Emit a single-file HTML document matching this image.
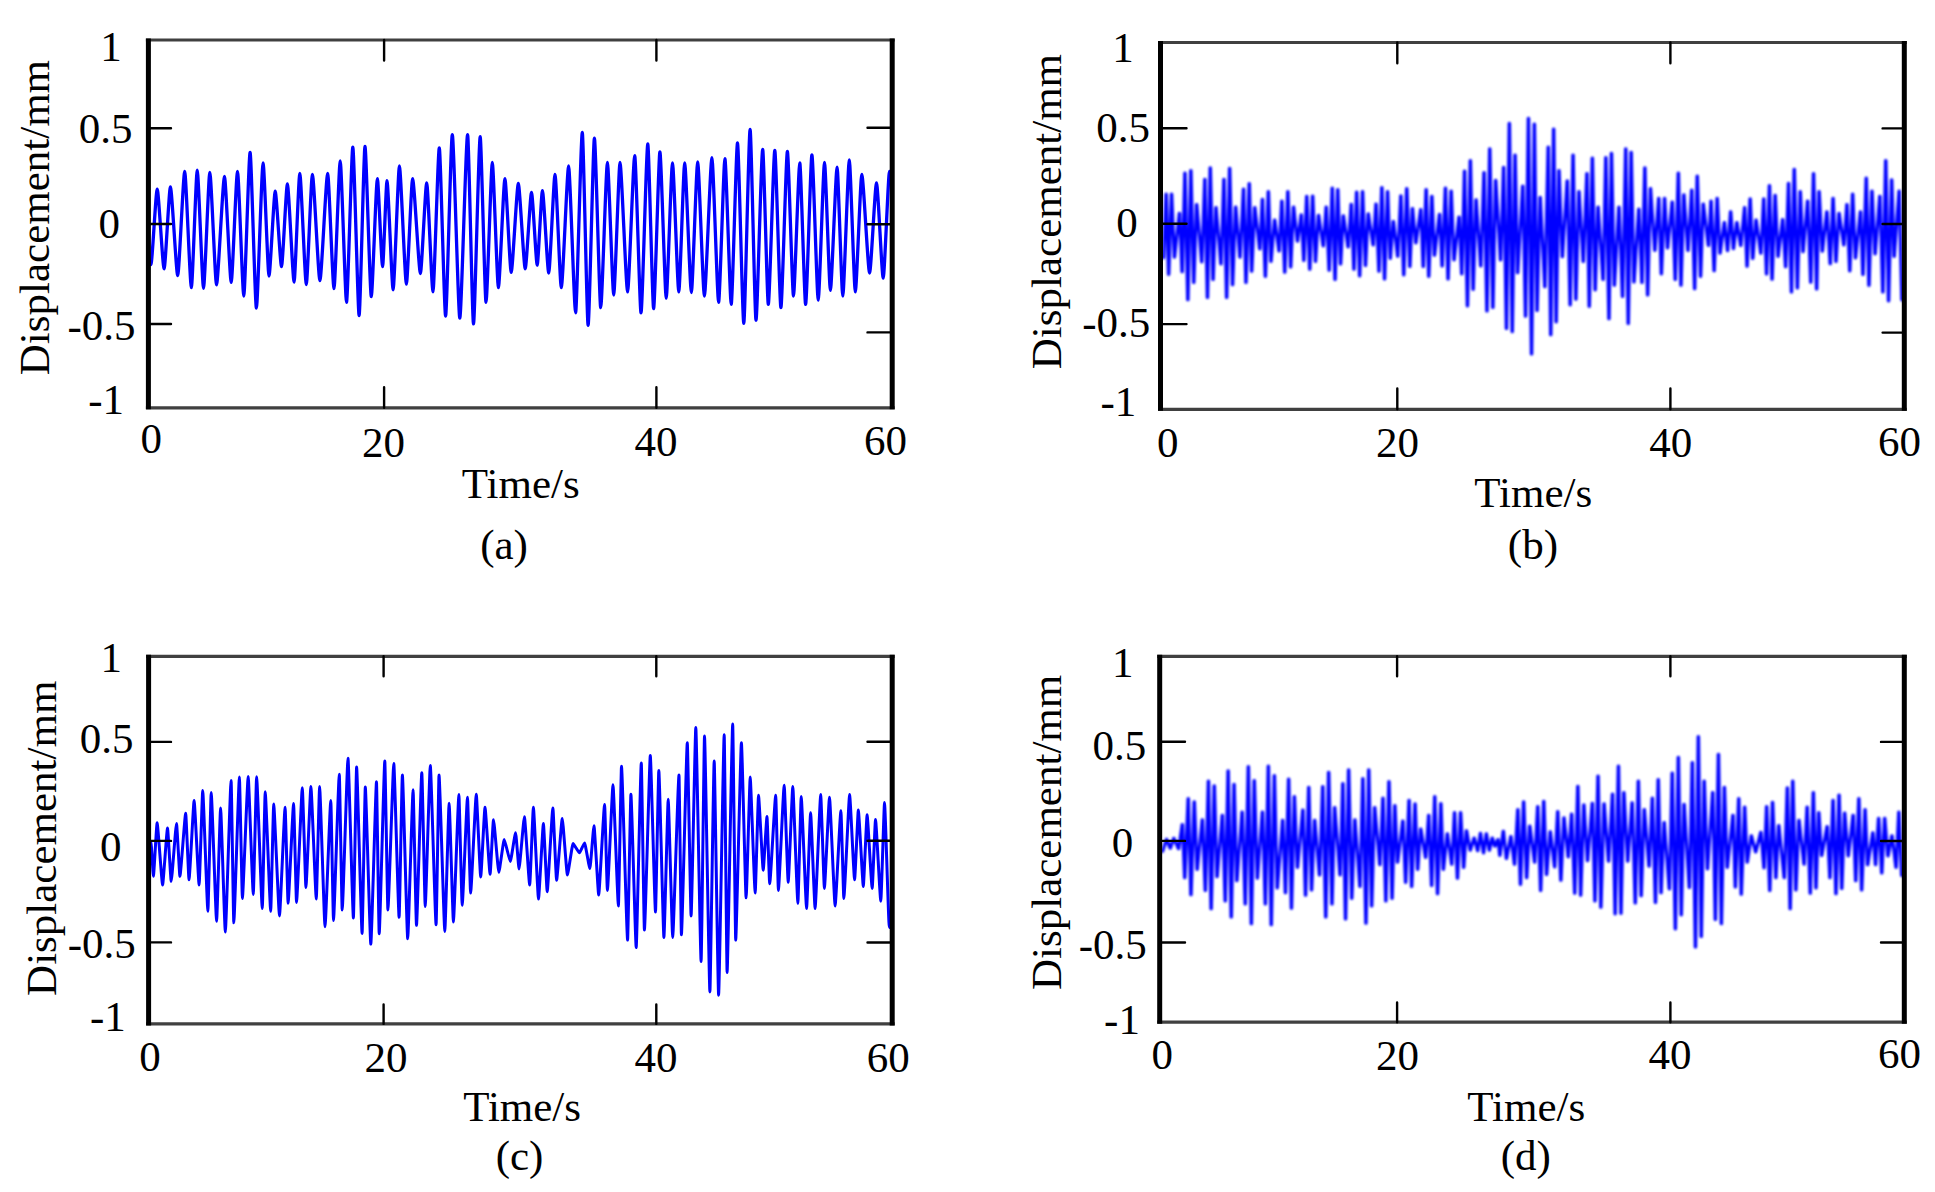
<!DOCTYPE html>
<html lang="en"><head><meta charset="utf-8"><title>Displacement time histories</title>
<style>html,body{margin:0;padding:0;background:#fff}svg{display:block}text{font-family:"Liberation Serif",serif;fill:#000}</style></head>
<body>
<svg width="1935" height="1192" viewBox="0 0 1935 1192">
<rect width="1935" height="1192" fill="#fff"/>
<defs><filter id="soft" x="-2%" y="-5%" width="104%" height="110%"><feGaussianBlur stdDeviation="0.5"/></filter><filter id="softer" x="-2%" y="-5%" width="104%" height="110%"><feGaussianBlur stdDeviation="0.9"/></filter></defs>
<g id="panel-a">
<path d="M150.9,264.6C152.2,264.6 155.9,189.1 157.2,189.1C158.6,189.1 162.7,268.8 164.1,268.8C165.4,268.8 169.1,187.0 170.4,187.0C171.9,187.0 176.3,275.7 177.7,275.7C179.1,275.7 183.3,171.3 184.7,171.3C186.0,171.3 190.0,287.7 191.4,287.7C192.5,287.7 196.1,170.2 197.2,170.2C198.5,170.2 202.3,288.3 203.5,288.3C204.8,288.3 208.6,172.3 209.8,172.3C211.2,172.3 215.2,284.9 216.5,284.9C218.1,284.9 222.9,176.5 224.5,176.5C225.8,176.5 229.9,282.4 231.2,282.4C232.5,282.4 236.2,171.3 237.5,171.3C238.8,171.3 242.5,296.0 243.8,296.0C245.0,296.0 248.8,152.4 250.1,152.4C251.3,152.4 255.1,308.2 256.4,308.2C257.7,308.2 261.7,162.9 263.1,162.9C264.3,162.9 267.8,276.1 269.0,276.1C270.2,276.1 274.0,191.2 275.2,191.2C276.5,191.2 280.3,266.7 281.5,266.7C282.7,266.7 286.2,183.9 287.4,183.9C288.7,183.9 292.8,282.0 294.1,282.0C295.2,282.0 298.6,173.4 299.8,173.4C301.1,173.4 305.0,284.5 306.3,284.5C307.5,284.5 311.1,174.4 312.4,174.4C313.9,174.4 318.4,280.7 319.9,280.7C321.5,280.7 326.1,173.4 327.7,173.4C328.9,173.4 332.7,288.7 334.0,288.7C335.2,288.7 339.0,160.8 340.2,160.8C341.5,160.8 345.3,302.3 346.5,302.3C347.8,302.3 351.6,147.2 352.8,147.2C354.1,147.2 357.9,315.5 359.1,315.5C360.3,315.5 363.8,146.5 365.0,146.5C366.2,146.5 370.0,296.7 371.3,296.7C372.5,296.7 376.1,178.6 377.4,178.6C378.4,178.6 381.5,266.7 382.6,266.7C383.5,266.7 386.1,180.7 387.0,180.7C388.2,180.7 391.9,289.8 393.1,289.8C394.4,289.8 398.2,166.0 399.4,166.0C400.8,166.0 405.0,284.1 406.4,284.1C407.6,284.1 411.4,178.6 412.6,178.6C414.2,178.6 418.9,273.6 420.4,273.6C421.7,273.6 425.4,182.8 426.7,182.8C428.0,182.8 431.7,291.9 433.0,291.9C434.2,291.9 438.0,147.8 439.3,147.8C440.5,147.8 444.3,316.0 445.6,316.0C446.9,316.0 450.9,134.6 452.3,134.6C453.8,134.6 458.3,318.1 459.8,318.1C461.4,318.1 466.0,134.6 467.6,134.6C468.8,134.6 472.3,323.9 473.5,323.9C474.8,323.9 478.8,136.7 480.2,136.7C481.3,136.7 484.9,302.3 486.0,302.3C487.3,302.3 491.1,162.5 492.3,162.5C493.5,162.5 497.2,287.7 498.4,287.7C499.7,287.7 503.6,178.6 504.9,178.6C506.2,178.6 509.9,272.4 511.2,272.4C512.6,272.4 516.9,183.5 518.3,183.5C519.7,183.5 523.9,268.8 525.2,268.8C526.5,268.8 530.3,192.3 531.5,192.3C532.7,192.3 536.1,265.2 537.2,265.2C538.2,265.2 541.4,190.6 542.4,190.6C543.7,190.6 547.5,273.0 548.7,273.0C550.0,273.0 553.8,174.4 555.0,174.4C556.3,174.4 560.0,287.7 561.3,287.7C562.8,287.7 567.2,166.0 568.6,166.0C570.0,166.0 574.2,312.8 575.6,312.8C576.9,312.8 580.9,132.5 582.3,132.5C583.4,132.5 587.0,325.4 588.1,325.4C589.4,325.4 593.2,138.2 594.4,138.2C595.7,138.2 599.5,307.6 600.7,307.6C602.1,307.6 606.1,162.5 607.4,162.5C608.7,162.5 612.5,295.0 613.7,295.0C615.0,295.0 618.8,162.5 620.0,162.5C621.5,162.5 626.1,291.9 627.6,291.9C629.0,291.9 633.3,155.6 634.7,155.6C636.0,155.6 639.8,312.8 641.0,312.8C642.4,312.8 646.4,144.0 647.8,144.0C648.9,144.0 652.5,308.6 653.6,308.6C654.9,308.6 658.7,152.0 659.9,152.0C661.2,152.0 665.0,298.1 666.2,298.1C667.5,298.1 671.2,162.9 672.5,162.9C673.8,162.9 677.5,291.9 678.8,291.9C680.0,291.9 683.5,162.9 684.7,162.9C686.0,162.9 690.0,292.5 691.4,292.5C692.6,292.5 696.4,161.9 697.7,161.9C699.0,161.9 703.0,296.0 704.4,296.0C705.9,296.0 710.4,157.7 711.9,157.7C713.3,157.7 717.3,302.3 718.6,302.3C719.9,302.3 723.7,158.7 724.9,158.7C726.2,158.7 730.0,304.4 731.2,304.4C732.5,304.4 736.2,143.0 737.5,143.0C738.8,143.0 742.5,323.3 743.8,323.3C745.0,323.3 748.8,129.4 750.1,129.4C751.3,129.4 754.8,320.2 756.0,320.2C757.3,320.2 761.3,149.3 762.7,149.3C763.8,149.3 767.2,304.4 768.3,304.4C769.6,304.4 773.5,150.3 774.8,150.3C776.0,150.3 779.7,307.6 780.9,307.6C782.2,307.6 786.1,151.4 787.4,151.4C788.6,151.4 792.3,296.0 793.5,296.0C794.7,296.0 798.5,162.9 799.8,162.9C800.9,162.9 804.5,304.4 805.6,304.4C806.9,304.4 810.7,154.9 811.9,154.9C813.2,154.9 817.0,300.2 818.2,300.2C819.5,300.2 823.3,162.3 824.5,162.3C825.7,162.3 829.2,290.4 830.4,290.4C831.7,290.4 835.8,167.1 837.1,167.1C838.2,167.1 841.6,296.0 842.8,296.0C844.1,296.0 848.0,159.8 849.3,159.8C850.5,159.8 854.1,291.9 855.3,291.9C856.6,291.9 860.5,174.4 861.8,174.4C863.4,174.4 868.0,273.0 869.6,273.0C871.0,273.0 875.1,182.8 876.5,182.8C877.9,182.8 881.9,278.2 883.2,278.2C884.5,278.2 888.3,171.3 889.5,171.3" fill="none" stroke="#0000ff" stroke-width="3.3" stroke-linejoin="round" stroke-linecap="round" filter="url(#soft)"/>
<g stroke="#404040" stroke-width="3.2" fill="none"><path d="M145.9,40.0H894.7M145.9,407.8H894.7"/></g>
<path d="M148.4,128.2H171.0M148.4,224.0H171.0M148.4,324.0H171.0M892.2,127.7H867.5M892.2,224.2H867.5M892.2,332.4H867.5M384.1,40.0V60.5M384.1,407.8V387.3M656.4,40.0V60.5M656.4,407.8V387.3" stroke="#000" stroke-width="2.4" stroke-linecap="round" fill="none"/>
<path d="M148.4,38.5V409.3M892.2,38.5V409.3" stroke="#000" stroke-width="5" fill="none"/>
<text x="111.1" y="60.5" font-size="43" text-anchor="middle" >1</text>
<text x="105.5" y="143.2" font-size="43" text-anchor="middle" >0.5</text>
<text x="109.2" y="237.6" font-size="43" text-anchor="middle" >0</text>
<text x="101.5" y="340.0" font-size="43" text-anchor="middle" >-0.5</text>
<text x="106.2" y="413.5" font-size="43" text-anchor="middle" >-1</text>
<text x="151.3" y="452.9" font-size="43" text-anchor="middle" >0</text>
<text x="383.6" y="457.0" font-size="43" text-anchor="middle" >20</text>
<text x="655.9" y="455.8" font-size="43" text-anchor="middle" >40</text>
<text x="885.5" y="454.6" font-size="43" text-anchor="middle" >60</text>
<text x="520.7" y="498.4" font-size="43" text-anchor="middle" >Time/s</text>
<text x="504.1" y="559.2" font-size="43" text-anchor="middle" >(a)</text>
<text font-size="43" text-anchor="middle" transform="translate(49.2,217.6) rotate(-90)">Displacement/mm</text>
</g>
<g id="panel-b">
<path d="M1163.3,257.7L1163.6,257.7L1166.0,194.2L1166.3,194.2L1168.5,274.3L1168.8,274.3L1171.4,194.2L1171.7,194.2L1174.3,257.2L1174.6,257.2L1179.3,213.4L1179.6,213.4L1182.0,271.7L1182.3,271.7L1184.8,173.0L1185.1,173.0L1187.7,299.6L1188.0,299.6L1190.7,170.5L1191.0,170.5L1193.6,282.5L1193.9,282.5L1196.5,204.6L1196.8,204.6L1201.6,261.8L1201.9,261.8L1204.7,179.3L1205.0,179.3L1207.3,297.5L1207.6,297.5L1210.1,167.9L1210.4,167.9L1212.9,279.4L1213.2,279.4L1215.8,207.7L1216.1,207.7L1220.8,263.9L1221.1,263.9L1223.8,179.3L1224.1,179.3L1226.5,297.5L1226.8,297.5L1229.5,168.4L1229.8,168.4L1232.4,284.6L1232.7,284.6L1235.5,207.2L1235.8,207.2L1239.8,257.2L1240.1,257.2L1243.4,189.1L1243.7,189.1L1245.8,282.5L1246.1,282.5L1249.1,183.6L1249.4,183.6L1251.5,271.1L1251.8,271.1L1254.6,207.7L1254.9,207.7L1259.6,248.9L1259.9,248.9L1262.3,199.4L1262.6,199.4L1265.2,276.3L1265.5,276.3L1268.2,191.7L1268.5,191.7L1270.8,261.3L1271.1,261.3L1274.5,220.1L1274.8,220.1L1278.9,251.0L1279.2,251.0L1281.7,201.0L1282.0,201.0L1284.6,272.2L1284.9,272.2L1287.7,191.7L1288.0,191.7L1290.5,267.0L1290.8,267.0L1293.4,207.2L1293.7,207.2L1297.3,241.2L1297.6,241.2L1301.1,214.9L1301.4,214.9L1303.7,260.3L1304.0,260.3L1306.6,196.3L1306.9,196.3L1309.6,269.1L1309.9,269.1L1312.5,196.0L1312.8,196.0L1315.3,261.3L1315.6,261.3L1318.4,215.4L1318.7,215.4L1323.1,245.8L1323.4,245.8L1326.1,207.2L1326.4,207.2L1329.0,270.1L1329.3,270.1L1332.1,188.0L1332.4,188.0L1334.9,279.4L1335.2,279.4L1337.6,189.6L1337.9,189.6L1340.4,263.9L1340.7,263.9L1343.2,215.9L1343.5,215.9L1348.0,246.9L1348.3,246.9L1351.1,204.3L1351.4,204.3L1353.8,269.1L1354.1,269.1L1356.5,192.2L1356.8,192.2L1359.5,275.8L1359.8,275.8L1362.4,191.7L1362.7,191.7L1365.3,265.5L1365.6,265.5L1368.1,213.9L1368.4,213.9L1373.0,244.8L1373.3,244.8L1375.9,204.1L1376.2,204.1L1378.8,271.2L1379.1,271.2L1381.7,187.5L1382.0,187.5L1384.4,278.9L1384.7,278.9L1387.4,191.7L1387.7,191.7L1390.1,258.3L1390.4,258.3L1393.2,221.6L1393.5,221.6L1397.6,256.2L1397.9,256.2L1400.7,195.8L1401.0,195.8L1403.6,274.8L1403.9,274.8L1406.6,188.6L1406.9,188.6L1409.7,266.5L1410.0,266.5L1412.3,208.7L1412.6,208.7L1415.7,242.8L1416.0,242.8L1420.6,209.7L1420.9,209.7L1423.1,266.5L1423.4,266.5L1426.0,189.6L1426.3,189.6L1428.6,276.3L1428.9,276.3L1431.7,196.3L1432.0,196.3L1434.3,255.2L1434.6,255.2L1439.4,214.4L1439.7,214.4L1442.0,266.0L1442.3,266.0L1445.3,188.0L1445.6,188.0L1447.9,278.9L1448.2,278.9L1451.0,191.1L1451.3,191.1L1453.9,259.8L1454.2,259.8L1458.9,217.0L1459.2,217.0L1461.6,273.8L1461.9,273.8L1464.4,171.0L1464.7,171.0L1467.3,305.8L1467.6,305.8L1470.2,160.6L1470.5,160.6L1473.0,289.3L1473.3,289.3L1475.9,199.9L1476.2,199.9L1480.6,266.0L1480.9,266.0L1483.9,172.5L1484.2,172.5L1486.8,311.0L1487.1,311.0L1489.6,148.8L1489.9,148.8L1492.7,307.4L1493.0,307.4L1495.5,180.3L1495.8,180.3L1500.4,259.8L1500.7,259.8L1503.5,167.4L1503.8,167.4L1506.3,328.5L1506.6,328.5L1509.2,123.4L1509.5,123.4L1512.1,331.6L1512.4,331.6L1514.9,155.0L1515.2,155.0L1517.5,272.7L1517.8,272.7L1522.6,186.0L1522.9,186.0L1525.4,316.1L1525.7,316.1L1528.3,118.3L1528.6,118.3L1531.4,353.9L1531.7,353.9L1534.2,124.0L1534.5,124.0L1536.9,310.5L1537.2,310.5L1540.0,197.3L1540.3,197.3L1544.7,286.7L1545.0,286.7L1548.1,147.2L1548.4,147.2L1550.6,334.7L1550.9,334.7L1553.5,129.1L1553.8,129.1L1556.0,321.8L1556.3,321.8L1558.8,170.5L1559.1,170.5L1562.2,256.7L1562.5,256.7L1567.1,180.8L1567.4,180.8L1570.0,304.8L1570.3,304.8L1572.9,155.0L1573.2,155.0L1575.7,299.1L1576.0,299.1L1578.8,191.7L1579.1,191.7L1583.1,261.4L1583.4,261.4L1586.8,173.6L1587.1,173.6L1589.1,306.3L1589.4,306.3L1592.2,158.1L1592.5,158.1L1595.0,289.8L1595.3,289.8L1597.9,207.2L1598.2,207.2L1602.9,279.4L1603.2,279.4L1605.7,157.5L1606.0,157.5L1608.8,318.7L1609.1,318.7L1611.3,153.4L1611.6,153.4L1614.2,285.1L1614.5,285.1L1618.8,207.2L1619.1,207.2L1622.4,296.5L1622.7,296.5L1625.6,148.8L1625.9,148.8L1628.1,323.4L1628.4,323.4L1631.0,152.4L1631.3,152.4L1633.8,282.0L1634.1,282.0L1638.7,209.2L1639.0,209.2L1641.8,282.5L1642.1,282.5L1644.7,167.9L1645.0,167.9L1647.5,294.9L1647.8,294.9L1650.3,188.6L1650.6,188.6L1654.7,250.5L1655.0,250.5L1658.6,198.4L1658.9,198.4L1661.2,273.8L1661.5,273.8L1664.4,198.4L1664.7,198.4L1667.4,247.9L1667.7,247.9L1672.1,202.0L1672.4,202.0L1675.1,279.4L1675.4,279.4L1678.2,173.0L1678.5,173.0L1680.8,285.1L1681.1,285.1L1683.7,194.8L1684.0,194.8L1687.8,250.5L1688.1,250.5L1691.6,190.1L1691.9,190.1L1694.5,288.7L1694.8,288.7L1697.1,176.1L1697.4,176.1L1700.4,276.3L1700.7,276.3L1703.1,204.1L1703.4,204.1L1708.3,245.3L1708.6,245.3L1710.9,201.0L1711.2,201.0L1714.0,270.7L1714.3,270.7L1717.0,198.4L1717.3,198.4L1719.9,253.1L1720.2,253.1L1724.2,222.7L1724.5,222.7L1727.4,250.7L1727.7,250.7L1730.5,211.8L1730.8,211.8L1733.3,248.6L1733.6,248.6L1736.7,222.7L1737.0,222.7L1740.6,245.5L1740.9,245.5L1744.5,207.7L1744.8,207.7L1746.9,266.2L1747.2,266.2L1750.0,198.9L1750.3,198.9L1752.6,258.4L1752.9,258.4L1755.9,220.1L1756.2,220.1L1760.7,253.2L1761.0,253.2L1763.6,198.9L1763.9,198.9L1766.4,273.9L1766.7,273.9L1769.3,185.5L1769.6,185.5L1771.9,279.1L1772.2,279.1L1775.0,195.3L1775.3,195.3L1777.9,256.3L1778.2,256.3L1782.5,219.6L1782.8,219.6L1785.5,266.7L1785.8,266.7L1788.4,183.4L1788.7,183.4L1791.3,292.0L1791.6,292.0L1794.1,169.4L1794.4,169.4L1797.2,287.9L1797.5,287.9L1800.1,191.7L1800.4,191.7L1802.9,251.7L1803.2,251.7L1807.5,201.0L1807.8,201.0L1810.6,282.2L1810.9,282.2L1813.4,173.6L1813.7,173.6L1816.5,288.9L1816.8,288.9L1818.9,191.7L1819.2,191.7L1822.2,251.2L1822.5,251.2L1826.7,211.8L1827.0,211.8L1830.1,263.6L1830.4,263.6L1832.9,198.4L1833.2,198.4L1835.8,261.5L1836.1,261.5L1838.9,213.4L1839.2,213.4L1843.7,245.0L1844.0,245.0L1846.8,204.6L1847.1,204.6L1849.6,270.8L1849.9,270.8L1852.5,194.2L1852.8,194.2L1855.3,257.9L1855.6,257.9L1860.3,211.8L1860.6,211.8L1862.8,274.4L1863.1,274.4L1866.1,178.2L1866.4,178.2L1868.8,285.3L1869.1,285.3L1871.8,191.1L1872.1,191.1L1874.9,253.8L1875.2,253.8L1879.7,196.3L1880.0,196.3L1882.7,292.0L1883.0,292.0L1885.6,160.6L1885.9,160.6L1888.4,300.8L1888.7,300.8L1891.5,179.8L1891.8,179.8L1894.0,256.3L1894.3,256.3L1899.0,191.1L1899.3,191.1L1901.8,299.8L1902.1,299.8" fill="none" stroke="#0000ff" stroke-width="3.2" stroke-linejoin="round" stroke-linecap="round" filter="url(#softer)"/>
<g stroke="#404040" stroke-width="3.2" fill="none"><path d="M1158.0,42.5H1906.8M1158.0,409.3H1906.8"/></g>
<path d="M1160.5,128.2H1186.5M1160.5,223.8H1186.5M1160.5,324.1H1186.5M1904.3,128.4H1882.6M1904.3,224.0H1882.6M1904.3,332.6H1882.6M1397.3,42.5V63.2M1397.3,409.3V388.5M1670.4,42.5V63.2M1670.4,409.3V388.5" stroke="#000" stroke-width="2.4" stroke-linecap="round" fill="none"/>
<path d="M1160.5,41.0V410.8M1904.3,41.0V410.8" stroke="#000" stroke-width="5" fill="none"/>
<text x="1123.0" y="62.0" font-size="43" text-anchor="middle" >1</text>
<text x="1123.1" y="142.2" font-size="43" text-anchor="middle" >0.5</text>
<text x="1127.0" y="236.9" font-size="43" text-anchor="middle" >0</text>
<text x="1116.3" y="337.4" font-size="43" text-anchor="middle" >-0.5</text>
<text x="1118.4" y="415.9" font-size="43" text-anchor="middle" >-1</text>
<text x="1167.7" y="456.6" font-size="43" text-anchor="middle" >0</text>
<text x="1397.5" y="456.6" font-size="43" text-anchor="middle" >20</text>
<text x="1670.8" y="456.6" font-size="43" text-anchor="middle" >40</text>
<text x="1899.5" y="455.8" font-size="43" text-anchor="middle" >60</text>
<text x="1533.3" y="506.7" font-size="43" text-anchor="middle" >Time/s</text>
<text x="1532.9" y="559.2" font-size="43" text-anchor="middle" >(b)</text>
<text font-size="43" text-anchor="middle" transform="translate(1060.6,211.6) rotate(-90)">Displacement/mm</text>
</g>
<g id="panel-c">
<path d="M151.0,842.0C151.3,842.0 153.1,876.3 153.4,876.3C153.9,876.3 156.6,822.7 157.1,822.7C157.8,822.7 161.9,885.0 162.6,885.0C163.2,885.0 166.9,828.1 167.5,828.1C168.0,828.1 170.7,881.3 171.2,881.3C171.9,881.3 175.8,823.4 176.5,823.4C177.0,823.4 179.5,876.3 179.9,876.3C180.7,876.3 184.9,813.3 185.7,813.3C186.1,813.3 188.6,879.7 189.0,879.7C189.7,879.7 193.5,800.5 194.1,800.5C194.8,800.5 198.5,885.0 199.1,885.0C199.6,885.0 202.3,790.5 202.7,790.5C203.4,790.5 207.2,911.2 207.9,911.2C208.3,911.2 210.8,792.5 211.2,792.5C211.9,792.5 215.9,921.3 216.6,921.3C217.1,921.3 220.1,807.9 220.6,807.9C221.2,807.9 224.7,932.1 225.3,932.1C226.1,932.1 230.3,780.4 231.1,780.4C231.5,780.4 233.4,922.7 233.8,922.7C234.5,922.7 238.7,777.0 239.4,777.0C239.8,777.0 242.0,898.5 242.4,898.5C243.1,898.5 247.4,776.4 248.2,776.4C248.8,776.4 252.6,894.4 253.3,894.4C253.7,894.4 256.2,776.8 256.6,776.8C257.4,776.8 261.5,908.5 262.3,908.5C262.7,908.5 264.8,791.8 265.2,791.8C265.9,791.8 270.0,911.2 270.7,911.2C271.1,911.2 273.3,803.9 273.7,803.9C274.4,803.9 278.7,915.9 279.5,915.9C280.2,915.9 284.4,807.3 285.1,807.3C285.5,807.3 287.7,903.2 288.1,903.2C288.8,903.2 292.9,803.6 293.6,803.6C294.0,803.6 296.2,902.5 296.5,902.5C297.3,902.5 301.6,787.8 302.3,787.8C302.8,787.8 305.5,887.4 305.9,887.4C306.6,887.4 310.3,786.4 310.9,786.4C311.6,786.4 315.6,899.1 316.3,899.1C316.7,899.1 319.2,786.4 319.6,786.4C320.3,786.4 324.3,926.7 325.0,926.7C325.8,926.7 330.0,800.5 330.8,800.5C331.2,800.5 333.1,920.6 333.5,920.6C334.2,920.6 338.5,774.3 339.3,774.3C339.7,774.3 341.8,909.9 342.2,909.9C343.0,909.9 347.2,758.2 348.0,758.2C348.7,758.2 352.7,917.9 353.4,917.9C353.8,917.9 356.2,767.0 356.6,767.0C357.3,767.0 361.4,933.4 362.1,933.4C362.5,933.4 364.9,787.1 365.3,787.1C366.0,787.1 370.1,944.1 370.8,944.1C371.6,944.1 375.8,781.7 376.5,781.7C376.8,781.7 378.8,933.7 379.2,933.7C379.9,933.7 384.1,760.9 384.8,760.9C385.2,760.9 387.5,909.9 387.9,909.9C388.7,909.9 393.0,763.6 393.8,763.6C394.5,763.6 398.4,917.3 399.1,917.3C399.6,917.3 401.9,775.0 402.4,775.0C403.1,775.0 407.0,938.8 407.7,938.8C408.4,938.8 412.4,789.8 413.1,789.8C413.5,789.8 416.0,925.3 416.5,925.3C417.2,925.3 421.1,772.7 421.8,772.7C422.3,772.7 424.8,906.5 425.2,906.5C425.9,906.5 429.6,765.6 430.3,765.6C431.1,765.6 435.3,924.7 436.1,924.7C436.5,924.7 438.7,775.0 439.0,775.0C439.8,775.0 444.1,931.4 444.8,931.4C445.4,931.4 448.6,803.2 449.1,803.2C449.7,803.2 452.9,922.0 453.4,922.0C454.1,922.0 458.2,794.5 458.9,794.5C459.3,794.5 461.7,905.2 462.2,905.2C462.9,905.2 466.8,797.2 467.5,797.2C467.9,797.2 470.2,893.1 470.6,893.1C471.4,893.1 475.5,794.2 476.3,794.2C476.8,794.2 480.1,877.0 480.7,877.0C481.3,877.0 484.4,807.3 485.0,807.3C485.7,807.3 489.4,874.3 490.1,874.3C490.5,874.3 493.0,819.8 493.5,819.8C494.2,819.8 498.1,872.3 498.8,872.3C499.5,872.3 503.5,839.5 504.2,839.5C505.0,839.5 509.5,861.5 510.3,861.5C511.0,861.5 514.9,832.8 515.6,832.8C516.1,832.8 518.6,868.9 519.0,868.9C519.7,868.9 523.7,816.7 524.4,816.7C525.1,816.7 529.0,885.0 529.7,885.0C530.2,885.0 532.9,807.3 533.4,807.3C534.0,807.3 537.8,899.1 538.5,899.1C539.1,899.1 542.8,823.4 543.4,823.4C543.9,823.4 546.7,891.7 547.2,891.7C547.9,891.7 552.1,807.9 552.9,807.9C553.3,807.9 556.1,880.3 556.6,880.3C557.3,880.3 561.5,818.4 562.3,818.4C562.9,818.4 566.7,875.0 567.4,875.0C568.1,875.0 572.3,843.5 573.0,843.5C573.8,843.5 578.6,852.8 579.5,852.8C580.1,852.8 583.9,842.9 584.6,842.9C585.3,842.9 589.2,868.6 589.9,868.6C590.5,868.6 593.4,825.7 594.0,825.7C594.6,825.7 598.1,895.1 598.7,895.1C599.4,895.1 603.8,804.6 604.6,804.6C605.0,804.6 607.0,890.4 607.4,890.4C608.1,890.4 612.3,784.8 613.0,784.8C613.7,784.8 617.7,905.9 618.4,905.9C618.8,905.9 621.1,766.3 621.5,766.3C622.3,766.3 626.8,940.1 627.6,940.1C628.0,940.1 630.5,794.2 630.9,794.2C631.6,794.2 635.5,947.5 636.2,947.5C636.8,947.5 640.6,762.9 641.3,762.9C641.7,762.9 644.0,930.0 644.4,930.0C645.2,930.0 649.6,755.6 650.3,755.6C651.0,755.6 654.8,911.9 655.5,911.9C655.9,911.9 658.4,770.4 658.8,770.4C659.5,770.4 663.3,937.4 663.9,937.4C664.5,937.4 667.7,799.3 668.2,799.3C668.8,799.3 672.1,937.4 672.7,937.4C673.5,937.4 678.1,775.1 679.0,775.1C679.3,775.1 681.1,934.7 681.4,934.7C682.2,934.7 686.5,742.8 687.3,742.8C687.8,742.8 690.6,915.9 691.1,915.9C691.7,915.9 695.2,727.4 695.8,727.4C696.5,727.4 700.4,961.6 701.1,961.6C701.6,961.6 704.1,735.9 704.5,735.9C705.2,735.9 709.2,991.9 709.9,991.9C710.4,991.9 713.6,761.0 714.2,761.0C714.7,761.0 718.0,995.2 718.6,995.2C719.3,995.2 723.5,734.8 724.2,734.8C724.6,734.8 726.7,972.4 727.1,972.4C727.8,972.4 732.0,724.0 732.7,724.0C733.1,724.0 735.3,940.1 735.7,940.1C736.4,940.1 740.7,742.8 741.4,742.8C742.1,742.8 745.5,897.8 746.1,897.8C746.7,897.8 749.7,777.1 750.2,777.1C750.8,777.1 754.5,893.1 755.2,893.1C755.6,893.1 758.1,795.2 758.5,795.2C759.1,795.2 762.6,870.2 763.2,870.2C763.7,870.2 766.5,816.5 767.0,816.5C767.3,816.5 769.3,883.7 769.7,883.7C770.5,883.7 774.9,795.2 775.7,795.2C776.1,795.2 778.0,890.4 778.4,890.4C779.1,890.4 783.4,785.2 784.2,785.2C784.7,785.2 787.7,882.3 788.2,882.3C788.8,882.3 792.2,786.5 792.8,786.5C793.4,786.5 797.2,903.2 797.9,903.2C798.3,903.2 800.8,796.6 801.2,796.6C801.9,796.6 805.9,908.5 806.6,908.5C807.1,908.5 810.1,812.7 810.6,812.7C811.2,812.7 814.5,908.5 815.1,908.5C815.8,908.5 820.0,794.6 820.7,794.6C821.2,794.6 823.9,888.4 824.4,888.4C825.0,888.4 828.8,797.3 829.5,797.3C830.2,797.3 834.4,905.9 835.1,905.9C835.9,905.9 840.1,810.7 840.9,810.7C841.3,810.7 843.5,898.5 843.8,898.5C844.6,898.5 848.9,794.6 849.6,794.6C850.3,794.6 853.9,879.7 854.6,879.7C855.1,879.7 857.9,810.0 858.3,810.0C859.0,810.0 862.7,886.4 863.3,886.4C863.8,886.4 866.6,814.7 867.1,814.7C867.7,814.7 871.5,888.4 872.2,888.4C872.6,888.4 875.1,819.4 875.5,819.4C876.2,819.4 880.1,901.2 880.8,901.2C881.3,901.2 884.1,802.6 884.5,802.6C885.2,802.6 888.6,927.4 889.3,927.4" fill="none" stroke="#0000ff" stroke-width="3.0" stroke-linejoin="round" stroke-linecap="round" filter="url(#soft)"/>
<g stroke="#404040" stroke-width="3.2" fill="none"><path d="M146.1,656.3H894.7M146.1,1023.9H894.7"/></g>
<path d="M148.6,741.9H171.0M148.6,840.9H171.0M148.6,942.4H171.0M892.2,741.8H867.5M892.2,840.8H867.5M892.2,942.5H867.5M383.6,656.3V676.3M383.6,1023.9V1004.5M656.3,656.3V676.3M656.3,1023.9V1004.5" stroke="#000" stroke-width="2.4" stroke-linecap="round" fill="none"/>
<path d="M148.6,654.8V1025.4M892.2,654.8V1025.4" stroke="#000" stroke-width="5" fill="none"/>
<text x="111.2" y="672.2" font-size="43" text-anchor="middle" >1</text>
<text x="106.7" y="753.0" font-size="43" text-anchor="middle" >0.5</text>
<text x="110.7" y="860.5" font-size="43" text-anchor="middle" >0</text>
<text x="101.8" y="957.9" font-size="43" text-anchor="middle" >-0.5</text>
<text x="107.9" y="1030.9" font-size="43" text-anchor="middle" >-1</text>
<text x="150.0" y="1071.2" font-size="43" text-anchor="middle" >0</text>
<text x="385.9" y="1072.0" font-size="43" text-anchor="middle" >20</text>
<text x="655.9" y="1072.0" font-size="43" text-anchor="middle" >40</text>
<text x="888.2" y="1072.0" font-size="43" text-anchor="middle" >60</text>
<text x="522.1" y="1120.8" font-size="43" text-anchor="middle" >Time/s</text>
<text x="519.6" y="1170.4" font-size="43" text-anchor="middle" >(c)</text>
<text font-size="43" text-anchor="middle" transform="translate(55.8,838.3) rotate(-90)">Displacement/mm</text>
</g>
<g id="panel-d">
<path d="M1162.3,851.3L1162.6,851.3L1166.4,839.4L1166.7,839.4L1170.1,848.2L1170.4,848.2L1173.7,838.3L1174.0,838.3L1178.4,848.7L1178.7,848.7L1182.2,824.6L1182.5,824.6L1184.6,877.6L1184.9,877.6L1188.1,798.7L1188.4,798.7L1190.8,894.7L1191.1,894.7L1194.1,801.8L1194.4,801.8L1197.0,869.3L1197.3,869.3L1202.2,819.9L1202.5,819.9L1205.2,890.5L1205.5,890.5L1208.3,781.2L1208.6,781.2L1211.0,908.6L1211.3,908.6L1214.1,785.8L1214.4,785.8L1216.9,876.6L1217.2,876.6L1222.2,815.3L1222.5,815.3L1225.1,900.9L1225.4,900.9L1228.0,770.8L1228.3,770.8L1231.1,916.9L1231.4,916.9L1233.9,784.3L1234.2,784.3L1236.7,880.7L1237.0,880.7L1242.0,812.2L1242.3,812.2L1245.1,904.0L1245.4,904.0L1248.2,766.7L1248.5,766.7L1251.2,923.6L1251.5,923.6L1254.1,780.6L1254.4,780.6L1257.2,878.1L1257.5,878.1L1262.3,812.2L1262.6,812.2L1265.2,904.0L1265.5,904.0L1268.2,766.2L1268.5,766.2L1271.1,924.6L1271.4,924.6L1274.2,775.5L1274.5,775.5L1277.1,887.9L1277.4,887.9L1282.5,820.4L1282.8,820.4L1285.3,892.6L1285.6,892.6L1288.5,779.1L1288.8,779.1L1291.3,908.1L1291.6,908.1L1294.2,796.7L1294.5,796.7L1297.3,867.3L1297.6,867.3L1302.7,810.1L1303.0,810.1L1305.4,895.2L1305.7,895.2L1308.6,787.4L1308.9,787.4L1311.4,890.0L1311.7,890.0L1314.5,820.4L1314.8,820.4L1319.4,875.0L1319.7,875.0L1322.6,786.6L1322.9,786.6L1325.6,916.9L1325.9,916.9L1328.5,772.4L1328.8,772.4L1331.8,904.0L1332.1,904.0L1334.5,807.5L1334.8,807.5L1339.9,875.0L1340.2,875.0L1342.7,783.7L1343.0,783.7L1345.4,919.0L1345.7,919.0L1348.5,769.8L1348.8,769.8L1351.6,898.3L1351.9,898.3L1354.7,819.9L1355.0,819.9L1359.8,886.4L1360.1,886.4L1362.7,778.6L1363.0,778.6L1365.8,923.1L1366.1,923.1L1368.6,769.8L1368.9,769.8L1371.5,906.0L1371.8,906.0L1374.5,807.5L1374.8,807.5L1379.7,864.7L1380.0,864.7L1382.8,798.2L1383.1,798.2L1385.7,900.9L1386.0,900.9L1388.8,781.7L1389.1,781.7L1391.9,898.3L1392.2,898.3L1394.7,805.5L1395.0,805.5L1397.4,862.1L1397.7,862.1L1402.7,821.0L1403.0,821.0L1405.5,882.3L1405.8,882.3L1408.9,800.3L1409.2,800.3L1411.5,886.4L1411.8,886.4L1414.9,803.9L1415.2,803.9L1417.5,869.3L1417.8,869.3L1420.6,829.2L1420.9,829.2L1425.5,857.5L1425.8,857.5L1428.6,815.3L1428.9,815.3L1431.5,885.4L1431.8,885.4L1434.6,796.7L1434.9,796.7L1437.4,893.6L1437.7,893.6L1440.7,803.6L1441.0,803.6L1443.2,869.3L1443.5,869.3L1447.2,833.9L1447.5,833.9L1451.6,864.2L1451.9,864.2L1454.4,812.7L1454.7,812.7L1457.3,878.1L1457.6,878.1L1460.4,812.7L1460.7,812.7L1463.5,867.3L1463.8,867.3L1466.3,830.8L1466.6,830.8L1470.1,850.2L1470.4,850.2L1474.0,838.0L1474.3,838.0L1477.5,850.7L1477.8,850.7L1480.3,833.4L1480.6,833.4L1483.4,852.8L1483.7,852.8L1486.2,833.9L1486.5,833.9L1489.2,850.2L1489.5,850.2L1492.1,838.0L1492.4,838.0L1494.7,846.1L1495.0,846.1L1497.8,839.6L1498.1,839.6L1499.7,855.4L1500.0,855.4L1503.2,831.3L1503.5,831.3L1506.3,858.5L1506.6,858.5L1510.7,836.5L1511.0,836.5L1514.4,864.2L1514.7,864.2L1517.7,809.6L1518.0,809.6L1520.3,884.3L1520.6,884.3L1523.5,801.8L1523.8,801.8L1526.5,877.6L1526.8,877.6L1529.6,826.1L1529.9,826.1L1534.5,862.1L1534.8,862.1L1537.6,806.5L1537.9,806.5L1540.5,890.5L1540.8,890.5L1543.6,801.3L1543.9,801.3L1546.4,874.5L1546.7,874.5L1550.1,831.8L1550.4,831.8L1554.5,866.8L1554.8,866.8L1557.6,811.7L1557.9,811.7L1560.7,880.2L1561.0,880.2L1563.8,817.9L1564.1,817.9L1568.1,856.9L1568.4,856.9L1571.5,814.2L1571.8,814.2L1574.6,893.1L1574.9,893.1L1577.7,786.3L1578.0,786.3L1580.5,895.2L1580.8,895.2L1583.7,804.9L1584.0,804.9L1587.4,860.6L1587.7,860.6L1592.2,803.4L1592.5,803.4L1594.8,900.9L1595.1,900.9L1597.9,776.0L1598.2,776.0L1600.7,907.1L1601.0,907.1L1603.9,803.9L1604.2,803.9L1608.4,861.1L1608.7,861.1L1612.4,794.1L1612.7,794.1L1615.0,913.8L1615.3,913.8L1618.3,766.2L1618.6,766.2L1620.8,913.3L1621.1,913.3L1623.7,792.5L1624.0,792.5L1627.6,861.1L1627.9,861.1L1632.0,802.9L1632.3,802.9L1635.1,902.9L1635.4,902.9L1638.2,781.2L1638.5,781.2L1641.0,895.7L1641.3,895.7L1644.1,809.6L1644.4,809.6L1648.9,866.2L1649.2,866.2L1652.2,798.2L1652.5,798.2L1655.3,902.4L1655.6,902.4L1658.1,779.6L1658.4,779.6L1660.9,892.6L1661.2,892.6L1664.0,822.5L1664.3,822.5L1669.2,889.0L1669.5,889.0L1672.1,773.2L1672.4,773.2L1675.2,928.8L1675.5,928.8L1678.2,757.4L1678.5,757.4L1681.1,914.8L1681.4,914.8L1683.9,804.4L1684.2,804.4L1689.2,887.4L1689.5,887.4L1692.2,762.6L1692.5,762.6L1695.3,946.9L1695.6,946.9L1698.2,736.7L1698.5,736.7L1701.1,936.5L1701.4,936.5L1704.0,781.2L1704.3,781.2L1707.3,868.8L1707.6,868.8L1712.6,792.5L1712.9,792.5L1715.2,919.5L1715.5,919.5L1718.3,754.3L1718.6,754.3L1721.2,923.6L1721.5,923.6L1724.2,787.4L1724.5,787.4L1727.1,867.3L1727.4,867.3L1732.8,815.3L1733.1,815.3L1735.2,886.9L1735.5,886.9L1738.6,798.7L1738.9,798.7L1741.1,894.1L1741.4,894.1L1744.5,807.0L1744.8,807.0L1747.1,862.1L1747.4,862.1L1751.2,835.9L1751.5,835.9L1755.5,851.8L1755.8,851.8L1760.7,832.3L1761.0,832.3L1763.9,867.8L1764.2,867.8L1766.5,806.5L1766.8,806.5L1769.6,890.5L1769.9,890.5L1772.4,802.4L1772.7,802.4L1775.7,877.6L1776.0,877.6L1778.6,825.6L1778.9,825.6L1784.1,877.6L1784.4,877.6L1787.2,787.9L1787.5,787.9L1790.0,908.6L1790.3,908.6L1792.6,781.2L1792.9,781.2L1795.7,890.0L1796.0,890.0L1798.8,820.4L1799.1,820.4L1803.9,864.2L1804.2,864.2L1807.0,807.0L1807.3,807.0L1810.1,893.1L1810.4,893.1L1813.2,792.5L1813.5,792.5L1815.8,887.9L1816.1,887.9L1818.6,812.7L1818.9,812.7L1821.5,855.4L1821.8,855.4L1827.0,826.6L1827.3,826.6L1829.8,877.6L1830.1,877.6L1832.9,800.3L1833.2,800.3L1835.8,893.6L1836.1,893.6L1838.9,795.1L1839.2,795.1L1841.6,888.5L1841.9,888.5L1844.5,813.2L1844.8,813.2L1848.1,855.9L1848.4,855.9L1853.0,815.3L1853.3,815.3L1855.6,880.7L1855.9,880.7L1858.7,798.7L1859.0,798.7L1861.5,890.0L1861.8,890.0L1864.9,809.6L1865.2,809.6L1867.5,864.7L1867.8,864.7L1872.7,832.8L1873.0,832.8L1875.4,864.7L1875.7,864.7L1878.5,818.4L1878.8,818.4L1881.6,873.0L1881.9,873.0L1884.5,818.4L1884.8,818.4L1887.8,855.9L1888.1,855.9L1891.8,835.9L1892.1,835.9L1895.9,867.3L1896.2,867.3L1898.7,812.2L1899.0,812.2L1901.6,875.5L1901.9,875.5" fill="none" stroke="#0000ff" stroke-width="3.2" stroke-linejoin="round" stroke-linecap="round" filter="url(#softer)"/>
<g stroke="#404040" stroke-width="3.2" fill="none"><path d="M1157.2,656.3H1906.8M1157.2,1022.2H1906.8"/></g>
<path d="M1159.7,741.8H1185.0M1159.7,840.9H1185.0M1159.7,942.5H1185.0M1904.3,741.9H1881.0M1904.3,841.0H1881.0M1904.3,942.5H1881.0M1397.1,656.3V676.3M1397.1,1022.2V1002.5M1670.4,656.3V676.3M1670.4,1022.2V1002.5" stroke="#000" stroke-width="2.4" stroke-linecap="round" fill="none"/>
<path d="M1159.7,654.8V1023.7M1904.3,654.8V1023.7" stroke="#000" stroke-width="5" fill="none"/>
<text x="1122.8" y="677.0" font-size="43" text-anchor="middle" >1</text>
<text x="1119.3" y="760.0" font-size="43" text-anchor="middle" >0.5</text>
<text x="1122.4" y="857.0" font-size="43" text-anchor="middle" >0</text>
<text x="1112.8" y="958.6" font-size="43" text-anchor="middle" >-0.5</text>
<text x="1122.0" y="1033.6" font-size="43" text-anchor="middle" >-1</text>
<text x="1162.3" y="1068.7" font-size="43" text-anchor="middle" >0</text>
<text x="1397.5" y="1070.0" font-size="43" text-anchor="middle" >20</text>
<text x="1670.0" y="1068.7" font-size="43" text-anchor="middle" >40</text>
<text x="1899.5" y="1067.9" font-size="43" text-anchor="middle" >60</text>
<text x="1526.3" y="1120.8" font-size="43" text-anchor="middle" >Time/s</text>
<text x="1525.7" y="1170.4" font-size="43" text-anchor="middle" >(d)</text>
<text font-size="43" text-anchor="middle" transform="translate(1061.0,832.4) rotate(-90)">Displacement/mm</text>
</g>
</svg>
</body></html>
